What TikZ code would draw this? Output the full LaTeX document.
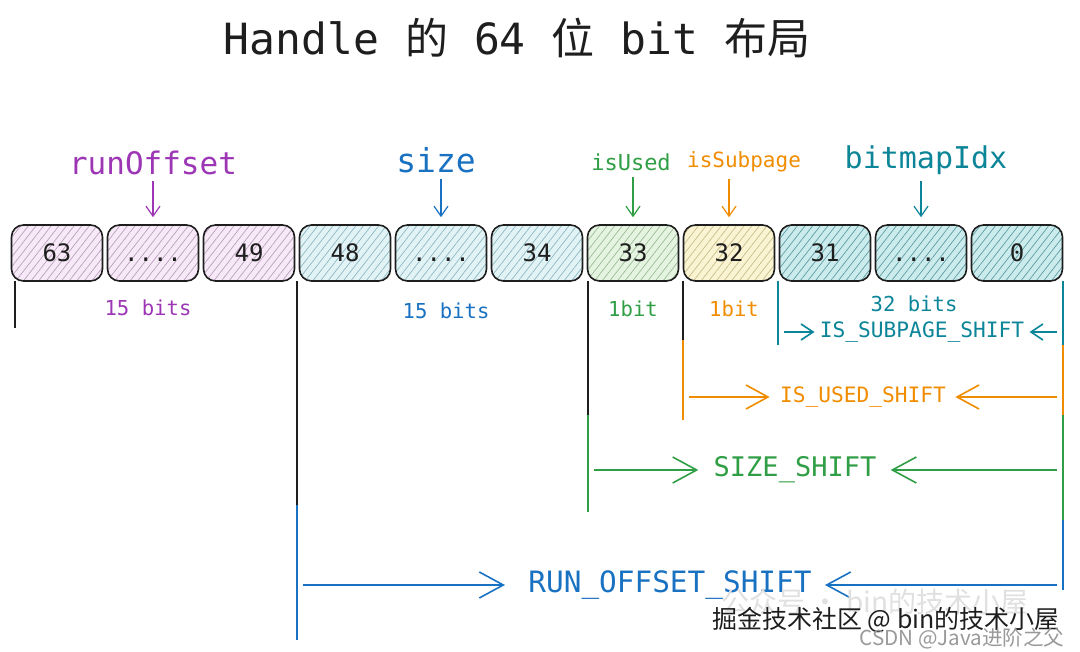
\documentclass[tikz,border=0pt]{standalone}
\usepackage{fontspec}
\setmainfont{DejaVu Sans Mono}
\newfontfamily\cjk{Noto Sans CJK SC}
\usetikzlibrary{arrows.meta,patterns.meta}
\newcommand\gapbits{\vphantom{0}.\kern0pt.\kern0pt.\kern0pt.}
\definecolor{ink}{HTML}{1E1E1E}
\definecolor{cPurple}{HTML}{9C36B5}
\definecolor{cBlue}{HTML}{1971C2}
\definecolor{cGreen}{HTML}{2F9E44}
\definecolor{cOrange}{HTML}{F08C00}
\definecolor{cTeal}{HTML}{0C8599}
\definecolor{fPurple}{HTML}{F7E9F7}
\definecolor{hPurple}{HTML}{B9A2BC}
\definecolor{fBlue}{HTML}{E2F3F6}
\definecolor{hBlue}{HTML}{8DB8C2}
\definecolor{fGreen}{HTML}{E5F4E1}
\definecolor{hGreen}{HTML}{9CBB96}
\definecolor{fYellow}{HTML}{FBF4D3}
\definecolor{hYellow}{HTML}{C8BD8C}
\definecolor{fTeal}{HTML}{CBEBEC}
\definecolor{hTeal}{HTML}{5E9CA4}
\begin{document}
\begin{tikzpicture}[x=0.5pt,y=-0.5pt,
  cell/.style={draw=ink,line width=0.8pt,rounded corners=6pt,minimum width=45.5pt,minimum height=28pt,
    inner sep=0pt,text=ink,font=\fontsize{12}{12}\selectfont,
    pattern={Lines[angle=52,distance=3pt,line width=0.35pt]}},
  tint/.style 2 args={preaction={fill=#1},pattern color=#2},
  lbl/.style={inner sep=0pt,font=\fontsize{#1}{#1}\selectfont},
  ptr/.style={-{Straight Barb[length=5pt,width=7pt]},line width=0.6pt,shorten <=3pt,shorten >=3.5pt},
  rule/.style={line width=0.8pt},
  shiftarr/.style 2 args={-{Straight Barb[length=#1,width=#2]},line width=0.8pt,shorten <=3pt}]
\useasboundingbox (0,0) rectangle (1080,652);

% title
\node[lbl=21.5,text=ink] (title) at (517,38) {Handle {\cjk 的} 64 {\cjk 位} bit {\cjk 布局}};

% the 64 bits
\foreach \t/\f/\h [count=\i from 0] in {63/fPurple/hPurple,\gapbits/fPurple/hPurple,49/fPurple/hPurple,
    48/fBlue/hBlue,\gapbits/fBlue/hBlue,34/fBlue/hBlue,33/fGreen/hGreen,32/fYellow/hYellow,
    31/fTeal/hTeal,\gapbits/fTeal/hTeal,0/fTeal/hTeal}
  \node[cell,tint={\f}{\h}] (b\i) at ({57+96*\i},253) {\t};

% field names
\node[lbl=15.5,text=cPurple] (lRun) at (153,163) {runOffset};
\node[lbl=16.5,text=cBlue] (lSize) at (436,160) {size};
\node[lbl=11,text=cGreen] (lUsed) at (631,162) {isUsed};
\node[lbl=10.5,text=cOrange] (lSub) at (744,162) {isSubpage};
\node[lbl=15,text=cTeal] (lBmp) at (926,160) {bitmapIdx};
\draw[ptr,cPurple] (lRun.south -| b1.north) -- (b1.north);
\draw[ptr,cBlue] (lSize.south -| b4.north) -- (b4.north);
\draw[ptr,cGreen] (lUsed.south -| b6.north) -- (b6.north);
\draw[ptr,cOrange] (lSub.south -| b7.north) -- (b7.north);
\draw[ptr,cTeal] (lBmp.south -| b9.north) -- (b9.north);

% widths
\node[lbl=10.3,text=cPurple] (wRun) at (148,308) {15 bits};
\node[lbl=10.3,text=cBlue] (wSize) at (446,311) {15 bits};
\node[lbl=10.3,text=cGreen] (wUsed) at (633,309) {1bit};
\node[lbl=10.3,text=cOrange] (wSub) at (734,309) {1bit};
\node[lbl=10.3,text=cTeal] (wBmp) at (914,304) {32 bits};

% borders
\draw[rule,ink] (15,281) -- (15,328);
\draw[rule,ink] (297,281) -- (297,505);
\draw[rule,ink] (588,281) -- (588,415);
\draw[rule,ink] (683,281) -- (683,340);
\draw[rule,cTeal] (778,281) -- (778,345);
\draw[rule,cTeal] (1063,281) -- (1063,345);
\draw[rule,cOrange] (683,340) -- (683,420);
\draw[rule,cOrange] (1063,345) -- (1063,415);
\draw[rule,cGreen] (588,415) -- (588,512);
\draw[rule,cGreen] (1063,415) -- (1063,520);
\draw[rule,cBlue] (297,505) -- (297,640);
\draw[rule,cBlue] (1063,520) -- (1063,590);
\coordinate (vRun) at (297,0);
\coordinate (vSize) at (588,0);
\coordinate (vUsed) at (683,0);
\coordinate (vSub) at (778,0);
\coordinate (vEnd) at (1063,0);

% shifts
\node[lbl=10.6,text=cTeal] (sSub) at (922,332) {IS\_SUBPAGE\_SHIFT};
\node[lbl=10.6,text=cOrange] (sUsed) at (863,397) {IS\_USED\_SHIFT};
\node[lbl=13.5,text=cGreen] (sSize) at (795,470) {SIZE\_SHIFT};
\node[lbl=14.7,text=cBlue] (sRun) at (670,585) {RUN\_OFFSET\_SHIFT};
\draw[shiftarr={6pt}{8pt},cTeal,shorten >=2.5pt] (sSub.west -| vSub) -- (sSub.west);
\draw[shiftarr={6pt}{8pt},cTeal,shorten >=2.5pt] (sSub.east -| vEnd) -- (sSub.east);
\draw[shiftarr={11pt}{12pt},cOrange,shorten >=5pt] (sUsed.west -| vUsed) -- (sUsed.west);
\draw[shiftarr={11pt}{12pt},cOrange,shorten >=4.5pt] (sUsed.east -| vEnd) -- (sUsed.east);
\draw[shiftarr={12pt}{13pt},cGreen,shorten >=7.5pt] (sSize.west -| vSize) -- (sSize.west);
\draw[shiftarr={12pt}{13pt},cGreen,shorten >=7pt] (sSize.east -| vEnd) -- (sSize.east);
\draw[shiftarr={12pt}{13pt},cBlue,shorten >=11.5pt] (sRun.west -| vRun) -- (sRun.west);
\draw[shiftarr={12pt}{13pt},cBlue,shorten >=6.5pt] (sRun.east -| vEnd) -- (sRun.east);

% watermark
\node[inner sep=0pt,text=black!12,font=\cjk\fontsize{14}{14}\selectfont] (wm1) at (875,602) {公众号 · bin的技术小屋};
\node[inner sep=0pt,text=ink,font=\cjk\fontsize{12.5}{12.5}\selectfont] (wm2) at (886,620) {掘金技术社区 @ bin的技术小屋};
\node[inner sep=0pt,text=black!40,font=\cjk\fontsize{10.3}{10.3}\selectfont] (wm3) at (962,639) {CSDN @Java进阶之父};
\end{tikzpicture}
\end{document}
